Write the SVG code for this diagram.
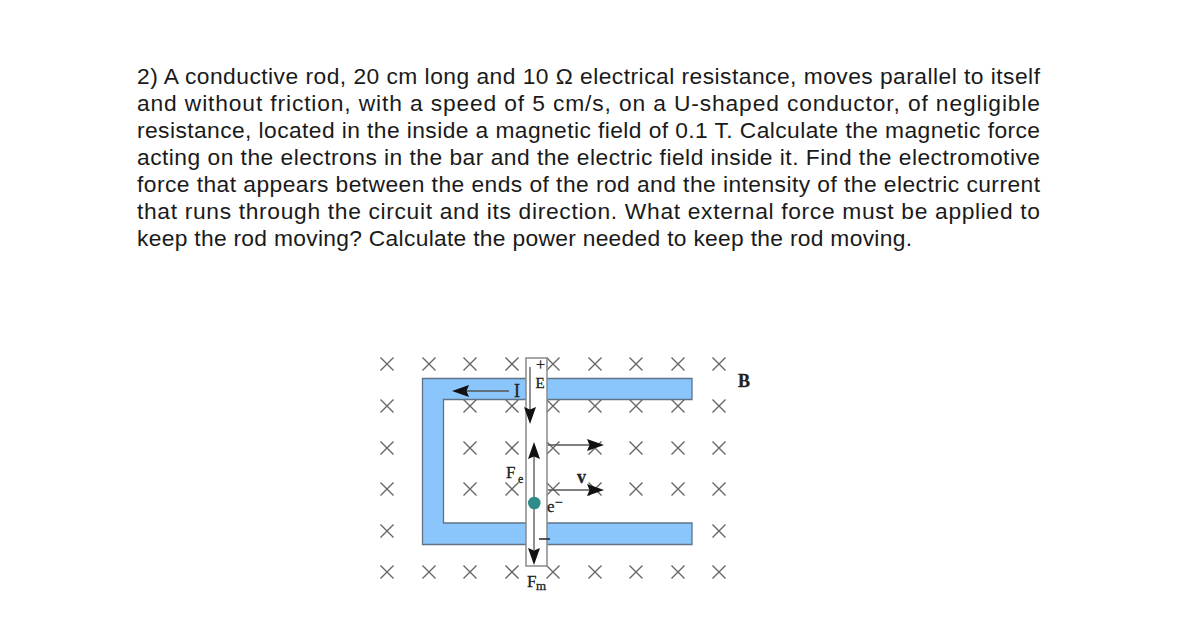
<svg xmlns="http://www.w3.org/2000/svg" width="1179" height="642" viewBox="0 0 1179 642">
<style>
.t{font-family:"Liberation Sans",Arial,sans-serif;font-size:22.800px;fill:#1a1a1a}
.s{font-family:"Liberation Serif","Times New Roman",serif;fill:#222;stroke:#222;stroke-width:.3}
.x{stroke:#666;stroke-width:1.4;fill:none}
.a{stroke:#555;stroke-width:1.300;fill:none}
.h{fill:#111}
</style>
<defs>
<path id="c" class="x" d="M-6.500-6.500L6.500 6.500M6.500-6.500L-6.500 6.500"/>
<path id="ah" class="h" d="M0 0L-17-6L-14.500 0L-17 6Z"/>
</defs>
<rect width="1179" height="642" fill="#fff"/>
<g id="text">
<text class="t" x="137" y="84" textLength="903">2) A conductive rod, 20 cm long and 10 Ω electrical resistance, moves parallel to itself</text>
<text class="t" x="137" y="111" textLength="903">and without friction, with a speed of 5 cm/s, on a U-shaped conductor, of negligible</text>
<text class="t" x="137" y="138" textLength="903">resistance, located in the inside a magnetic field of 0.1 T. Calculate the magnetic force</text>
<text class="t" x="137" y="165" textLength="903">acting on the electrons in the bar and the electric field inside it. Find the electromotive</text>
<text class="t" x="137" y="192" textLength="903">force that appears between the ends of the rod and the intensity of the electric current</text>
<text class="t" x="137" y="219" textLength="903">that runs through the circuit and its direction. What external force must be applied to</text>
<text class="t" x="137" y="246" textLength="775">keep the rod moving? Calculate the power needed to keep the rod moving.</text>
</g>
<g id="field">
<use href="#c" x="387" y="364"/><use href="#c" x="429" y="364"/><use href="#c" x="470" y="364"/><use href="#c" x="512" y="364"/><use href="#c" x="553" y="364"/><use href="#c" x="595" y="364"/><use href="#c" x="636" y="364"/><use href="#c" x="678" y="364"/><use href="#c" x="719" y="364"/>
<use href="#c" x="387" y="406"/><use href="#c" x="470" y="406"/><use href="#c" x="512" y="406"/><use href="#c" x="553" y="406"/><use href="#c" x="595" y="406"/><use href="#c" x="636" y="406"/><use href="#c" x="678" y="406"/><use href="#c" x="719" y="406"/>
<use href="#c" x="387" y="448"/><use href="#c" x="470" y="448"/><use href="#c" x="512" y="448"/><use href="#c" x="553" y="448"/><use href="#c" x="595" y="448"/><use href="#c" x="636" y="448"/><use href="#c" x="678" y="448"/><use href="#c" x="719" y="448"/>
<use href="#c" x="387" y="489"/><use href="#c" x="470" y="489"/><use href="#c" x="512" y="489"/><use href="#c" x="553" y="489"/><use href="#c" x="595" y="489"/><use href="#c" x="636" y="489"/><use href="#c" x="678" y="489"/><use href="#c" x="719" y="489"/>
<use href="#c" x="387" y="531"/><use href="#c" x="719" y="531"/>
<use href="#c" x="387" y="572"/><use href="#c" x="429" y="572"/><use href="#c" x="470" y="572"/><use href="#c" x="512" y="572"/><use href="#c" x="553" y="572"/><use href="#c" x="595" y="572"/><use href="#c" x="636" y="572"/><use href="#c" x="678" y="572"/><use href="#c" x="719" y="572"/>
</g>
<g id="conductor">
<path d="M692 378.500H422.500V544.500H692V523H443.500V399.500H692Z" fill="#8ac6fb" stroke="#5f7286" stroke-width="1.300"/>
</g>
<g id="rod">
<rect x="526" y="358" width="21" height="208" fill="#fff" stroke="#8a8a8a" stroke-width="1.500"/>
</g>
<g id="connectors">
<path class="a" d="M509 391H465M530 367V410M534 550V455M548 445H592M548 490H592"/>
<use href="#ah" transform="translate(452 391) rotate(180)"/>
<use href="#ah" transform="translate(530 424) rotate(90)"/>
<use href="#ah" transform="translate(534 442) rotate(-90)"/>
<use href="#ah" transform="translate(534 565) rotate(90)"/>
<use href="#ah" transform="translate(604 445)"/>
<use href="#ah" transform="translate(604 490)"/>
</g>
<g id="electron">
<circle cx="534.300" cy="503" r="6.300" fill="#2f8a8a"/>
</g>
<g id="labels">
<path d="M539 539H550" stroke="#222" stroke-width="1.500"/>
<text class="s" x="536" y="370" font-size="16">+</text>
<text class="s" x="535.500" y="388" font-size="15">E</text>
<text class="s" x="514" y="397" font-size="18">I</text>
<text class="s" x="506" y="478" font-size="17">F</text>
<text class="s" x="518" y="483" font-size="12">e</text>
<text class="s" x="577" y="483" font-size="18" font-weight="bold">v</text>
<text class="s" x="547" y="512" font-size="17">e</text>
<text class="s" x="555" y="507" font-size="14">−</text>
<text class="s" x="527" y="587" font-size="17">F</text>
<text class="s" x="536" y="590" font-size="13">m</text>
<text class="s" x="738" y="387" font-size="18" font-weight="bold">B</text>
</g>
</svg>
